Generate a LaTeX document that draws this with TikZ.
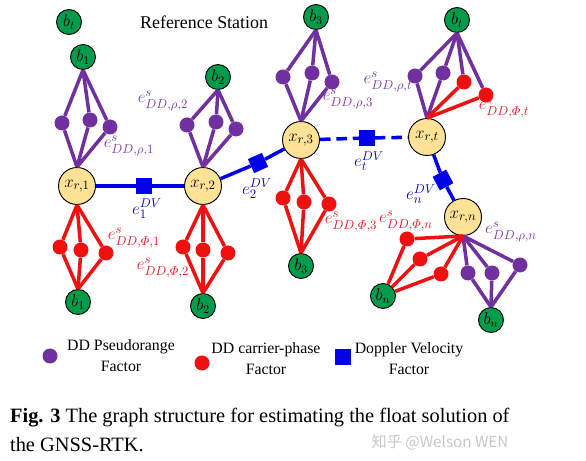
\documentclass[tikz,border=0pt]{standalone}
\usepackage{fontspec}
\setmainfont{Liberation Serif}
\newfontfamily\cjk{Noto Sans CJK SC}
\usepackage{amsmath}
\usetikzlibrary{positioning}

\definecolor{pcol}{RGB}{112,48,160}
\definecolor{rcol}{RGB}{240,16,16}
\definecolor{bcol}{RGB}{0,0,235}
\definecolor{gfill}{RGB}{0,155,75}
\definecolor{xfill}{RGB}{255,226,150}
\definecolor{plab}{RGB}{120,60,165}
\definecolor{rlab}{RGB}{215,30,40}
\definecolor{blab}{RGB}{10,10,190}

\tikzset{
  xnode/.style={circle, draw, fill=xfill, line width=0.8pt, minimum size=1.11cm, inner sep=0pt, font=\fontsize{15}{17}\selectfont},
  gnode/.style={circle, draw, fill=gfill, line width=0.8pt, minimum size=0.75cm, inner sep=0pt, font=\fontsize{14}{16}\selectfont},
  pfac/.style={circle, fill=pcol, minimum size=0.45cm, inner sep=0pt},
  rfac/.style={circle, fill=rcol, minimum size=0.45cm, inner sep=0pt},
  dvfac/.style={rectangle, fill=bcol, minimum size=0.46cm, inner sep=0pt},
  pline/.style={draw=pcol, line width=3pt},
  rline/.style={draw=rcol, line width=3pt},
  bline/.style={draw=bcol, line width=3pt},
  plabel/.style={text=plab, inner sep=1pt, font=\fontsize{15}{17}\selectfont},
  rlabel/.style={text=rlab, inner sep=1pt, font=\fontsize{15}{17}\selectfont},
  blabel/.style={text=blab, inner sep=1pt, font=\fontsize{15}{17}\selectfont},
  legtext/.style={align=center, font=\fontsize{13.5}{18}\selectfont}
}

\begin{document}
\begin{tikzpicture}[x=0.03cm, y=-0.03cm]
  \useasboundingbox (0,0) rectangle (586,461);

  % legend: reference station
  \node[gnode] (bt0) at (69,22) {$b_t$};
  \node[anchor=west, font=\fontsize{15.3}{17}\selectfont] (reflab) at (136,22) {Reference Station};

  % states
  \node[xnode] (x1) at (77,186)  {$x_{r,1}$};
  \node[xnode] (x2) at (203,186) {$x_{r,2}$};
  \node[xnode] (x3) at (301,140) {$x_{r,3}$};
  \node[xnode] (xt) at (427,137) {$x_{r,t}$};
  \node[xnode] (xn) at (463,217) {$x_{r,n}$};

  % stations
  \node[gnode] (b1u) at (83,57)   {$b_1$};
  \node[gnode] (b1d) at (78,302)  {$b_1$};
  \node[gnode] (b2u) at (218,77)  {$b_2$};
  \node[gnode] (b2d) at (203,306) {$b_2$};
  \node[gnode] (b3u) at (316,17)  {$b_3$};
  \node[gnode] (b3d) at (301,266) {$b_3$};
  \node[gnode] (btu) at (457,20)  {$b_t$};
  \node[gnode] (bnr) at (383,296) {$b_n$};
  \node[gnode] (bnp) at (491,320) {$b_n$};

  % pseudorange factors
  \node[pfac] (p11) at (62,123)  {};
  \node[pfac] (p12) at (90,120)  {};
  \node[pfac] (p13) at (110,127) {};
  \node[pfac] (p21) at (187,125) {};
  \node[pfac] (p22) at (216,122) {};
  \node[pfac] (p23) at (236,129) {};
  \node[pfac] (p31) at (283,77)  {};
  \node[pfac] (p32) at (312,73)  {};
  \node[pfac] (p33) at (332,82)  {};
  \node[pfac] (pt1) at (415,76)  {};
  \node[pfac] (pt2) at (443,73)  {};
  \node[pfac] (pn1) at (468,273) {};
  \node[pfac] (pn2) at (492,273) {};
  \node[pfac] (pn3) at (520,265) {};

  % carrier-phase factors
  \node[rfac] (r11) at (60,247)  {};
  \node[rfac] (r12) at (81,250)  {};
  \node[rfac] (r13) at (106,253) {};
  \node[rfac] (r21) at (183,247) {};
  \node[rfac] (r22) at (203,250) {};
  \node[rfac] (r23) at (228,253) {};
  \node[rfac] (r31) at (283,198) {};
  \node[rfac] (r32) at (304,202) {};
  \node[rfac] (r33) at (329,204) {};
  \node[rfac] (rt1) at (464,82)  {};
  \node[rfac] (rt2) at (486,95)  {};
  \node[rfac] (rn1) at (407,239) {};
  \node[rfac] (rn2) at (420,259) {};
  \node[rfac] (rn3) at (441,274) {};

  % doppler factors
  \node[dvfac] (d1) at (144,186) {};
  \node[dvfac, rotate=24] (d2) at (258,163) {};
  \node[dvfac] (dt) at (367,138) {};
  \node[dvfac, rotate=-62] (dn) at (443,180) {};

  % connectors
  \foreach \f in {p11,p12,p13} {
    \draw[pline] (b1u.south) -- (\f);
    \draw[pline] (\f) -- (x1.north);
  }
  \foreach \f in {p21,p22,p23} {
    \draw[pline] (b2u.south) -- (\f);
    \draw[pline] (\f) -- (x2.north);
  }
  \foreach \f in {p31,p32,p33} {
    \draw[pline] (b3u.south) -- (\f);
    \draw[pline] (\f) -- (x3.north);
  }
  \foreach \f in {pt1,pt2,rt1,rt2} {
    \draw[pline] (btu.south) -- (\f);
  }
  \foreach \f in {pt1,pt2} {
    \draw[pline] (\f) -- (xt.north);
  }
  \foreach \f in {rt1,rt2} {
    \draw[rline] (\f) -- (xt.north);
  }
  \foreach \f in {pn1,pn2,pn3} {
    \draw[pline] (xn.south) -- (\f);
    \draw[pline] (\f) -- (bnp.north);
  }

  \foreach \f in {r11,r12,r13} {
    \draw[rline] (x1.south) -- (\f);
    \draw[rline] (\f) -- (b1d.north);
  }
  \foreach \f in {r21,r22,r23} {
    \draw[rline] (x2.south) -- (\f);
    \draw[rline] (\f) -- (b2d.north);
  }
  \foreach \f in {r31,r32,r33} {
    \draw[rline] (x3.south) -- (\f);
    \draw[rline] (\f) -- (b3d.north);
  }
  \foreach \f in {rn1,rn2,rn3} {
    \draw[rline] (xn.south) -- (\f);
    \draw[rline] (\f) -- (bnr);
  }

  \draw[bline] (x1) -- (d1) -- (x2);
  \draw[bline] (x2) -- (d2) -- (x3);
  \draw[bline, dash pattern=on 9pt off 5pt] (x3) -- (dt) -- (xt);
  \draw[bline] (xt) -- (dn) -- (xn);

  % factor labels
  \node[plabel] (lp1) at (129,146) {$e^{s}_{DD,\rho,1}$};
  \node[plabel] (lp2) at (163,101) {$e^{s}_{DD,\rho,2}$};
  \node[plabel] (lp3) at (348,99)  {$e^{s}_{DD,\rho,3}$};
  \node[plabel] (lpt) at (388,82)  {$e^{s}_{DD,\rho,t}$};
  \node[plabel] (lpn) at (511,232) {$e^{s}_{DD,\rho,n}$};
  \node[rlabel] (lr1) at (134,238) {$e^{s}_{DD,\varPhi,1}$};
  \node[rlabel] (lr2) at (163,268) {$e^{s}_{DD,\varPhi,2}$};
  \node[rlabel] (lr3) at (351,222) {$e^{s}_{DD,\varPhi,3}$};
  \node[rlabel] (lrt) at (504,108) {$e^{s}_{DD,\varPhi,t}$};
  \node[rlabel] (lrn) at (406,221) {$e^{s}_{DD,\varPhi,n}$};
  \node[blabel] (ld1) at (147,209) {$e^{DV}_{1}$};
  \node[blabel] (ld2) at (257,189) {$e^{DV}_{2}$};
  \node[blabel] (ldt) at (369,161) {$e^{DV}_{t}$};
  \node[blabel] (ldn) at (421,194) {$e^{DV}_{n}$};

  % legend
  \node[pfac] (legp) at (50,356) {};
  \node[legtext] (legptext) at (121,356) {DD Pseudorange\\Factor};
  \node[rfac] (legr) at (202,363) {};
  \node[legtext] (legrtext) at (266,359) {DD carrier-phase\\Factor};
  \node[dvfac, minimum size=0.5cm] (legd) at (343,357) {};
  \node[legtext] (legdtext) at (409,359) {Doppler Velocity\\Factor};

  % caption
  \node[anchor=west, align=left, font=\fontsize{17.4}{24}\selectfont] (cap) at (6,430)
    {\textbf{Fig. 3} The graph structure for estimating the float solution of\\the GNSS-RTK.};
  \node[text=black!22, font=\cjk\fontsize{13}{15}\selectfont] (wm) at (440,442) {知乎 @Welson WEN};
\end{tikzpicture}
\end{document}
